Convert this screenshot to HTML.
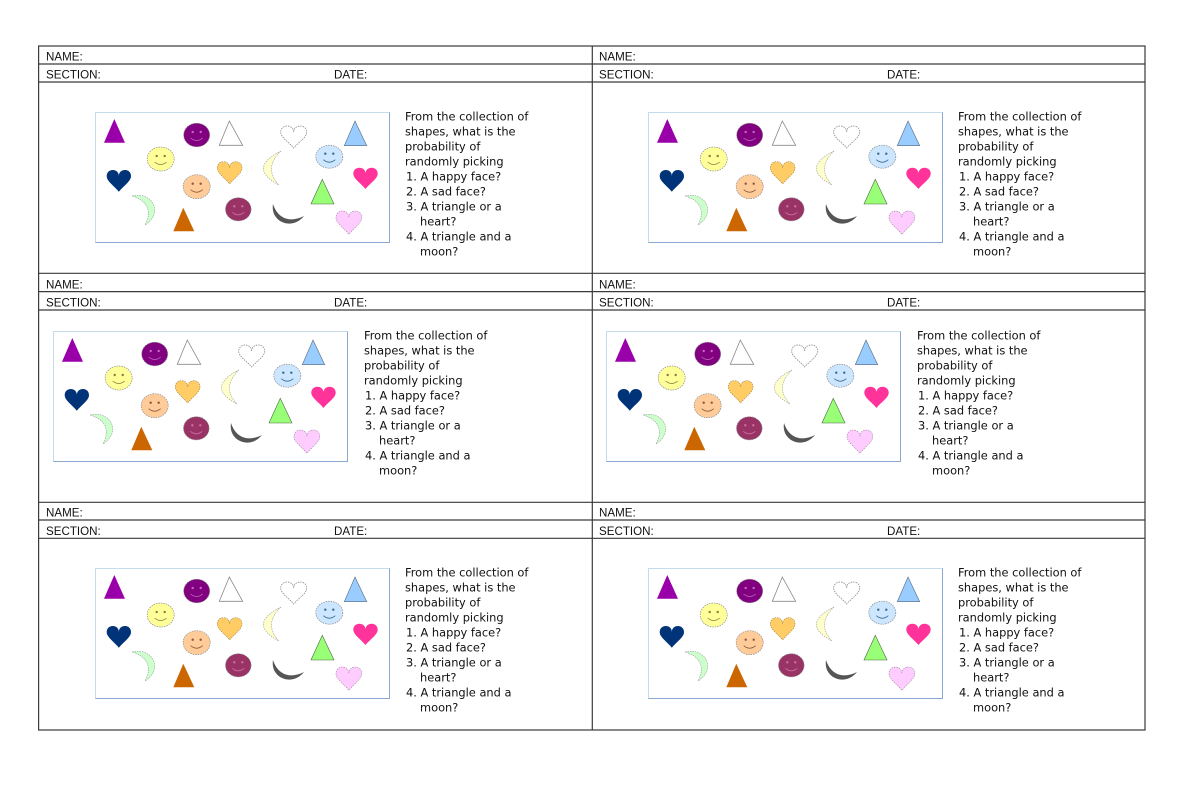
<!DOCTYPE html>
<html><head><meta charset="utf-8">
<style>
html,body{margin:0;padding:0;background:#fff;}
svg{display:block;}
.h{font-family:"Liberation Sans",sans-serif;font-size:11.6px;fill:#111;}
.q{font-family:"DejaVu Sans","Liberation Sans",sans-serif;font-size:11.4px;fill:#111;}
</style></head>
<body>
<svg width="1200" height="785" viewBox="0 0 1200 785" xmlns="http://www.w3.org/2000/svg">
<defs>
<g id="shapes">
  <rect x="0.5" y="0.5" width="294" height="130" fill="#fff" stroke="#c5dcec" stroke-width="1"/>
  <path d="M294.5 0.5 V130.5 H0.5" fill="none" stroke="#8aa8cf" stroke-width="1"/>
  <!-- triangles -->
  <polygon points="19.3,7 9,30.7 30,30.7" fill="#9900aa"/>
  <polygon points="134.3,9 124.3,33.3 147.7,33.3" fill="#fff" stroke="#8a8a8a" stroke-width="0.8"/>
  <polygon points="260,9 249.3,33.7 271.7,33.7" fill="#99ccff" stroke="#5a6a80" stroke-width="0.6"/>
  <polygon points="227.3,67.3 216,92 239,92" fill="#99ff77" stroke="#4a6a44" stroke-width="0.6"/>
  <polygon points="88.3,95.7 78.3,119.3 99.3,119.3" fill="#cc6600"/>
  <!-- faces -->
  <g stroke="#888" stroke-width="0.7" stroke-dasharray="1.5,1">
    <ellipse cx="101.7" cy="23" rx="13" ry="11.8" fill="#800080"/>
    <ellipse cx="65.7" cy="47" rx="13.5" ry="12" fill="#ffff99"/>
    <ellipse cx="234.3" cy="44.7" rx="13.5" ry="11.5" fill="#cce6ff"/>
    <ellipse cx="101.7" cy="74.7" rx="13.5" ry="12" fill="#ffcc99"/>
    <ellipse cx="143.3" cy="97.3" rx="12.8" ry="11.6" fill="#993366"/>
  </g>
  <g fill="#c46ac4"><circle cx="97.7" cy="20" r="1.2"/><circle cx="105.7" cy="20" r="1.2"/></g>
  <path d="M95.7 26 Q101.7 31 107.7 26" fill="none" stroke="#c46ac4" stroke-width="0.8"/>
  <g fill="#8a7a40"><circle cx="61.7" cy="44" r="1.2"/><circle cx="69.7" cy="44" r="1.2"/></g>
  <path d="M59.7 50 Q65.7 55 71.7 50" fill="none" stroke="#8a7a40" stroke-width="0.8"/>
  <g fill="#3a6a8a"><circle cx="230.3" cy="41.7" r="1.2"/><circle cx="238.3" cy="41.7" r="1.2"/></g>
  <path d="M228.3 47.7 Q234.3 52.7 240.3 47.7" fill="none" stroke="#3a6a8a" stroke-width="0.8"/>
  <g fill="#8a5a3a"><circle cx="97.7" cy="71.7" r="1.2"/><circle cx="105.7" cy="71.7" r="1.2"/></g>
  <path d="M95.7 77.7 Q101.7 82.7 107.7 77.7" fill="none" stroke="#8a5a3a" stroke-width="0.8"/>
  <g fill="#d070a0"><circle cx="139.3" cy="94.3" r="1.2"/><circle cx="147.3" cy="94.3" r="1.2"/></g>
  <path d="M137.3 100.3 Q143.3 105.3 149.3 100.3" fill="none" stroke="#d070a0" stroke-width="0.8"/>
  <!-- hearts -->
  <path transform="translate(185.7,14) scale(26,22)" vector-effect="non-scaling-stroke" fill="#fff" stroke="#888" stroke-width="0.8" stroke-dasharray="1.5,1"
    d="M0.5 0.27 C0.5 0.1 0.38 0 0.25 0 C0.1 0 0 0.12 0 0.28 C0 0.52 0.3 0.72 0.5 1 C0.7 0.72 1 0.52 1 0.28 C1 0.12 0.9 0 0.75 0 C0.62 0 0.5 0.1 0.5 0.27 Z"/>
  <path transform="translate(122.3,49.7) scale(24.7,22.3)" vector-effect="non-scaling-stroke" fill="#ffcc66" stroke="#a08040" stroke-width="0.6" stroke-dasharray="1.5,1"
    d="M0.5 0.27 C0.5 0.1 0.38 0 0.25 0 C0.1 0 0 0.12 0 0.28 C0 0.52 0.3 0.72 0.5 1 C0.7 0.72 1 0.52 1 0.28 C1 0.12 0.9 0 0.75 0 C0.62 0 0.5 0.1 0.5 0.27 Z"/>
  <path transform="translate(258.3,55.7) scale(24.4,21.3)" fill="#ff3399"
    d="M0.5 0.27 C0.5 0.1 0.38 0 0.25 0 C0.1 0 0 0.12 0 0.28 C0 0.52 0.3 0.72 0.5 1 C0.7 0.72 1 0.52 1 0.28 C1 0.12 0.9 0 0.75 0 C0.62 0 0.5 0.1 0.5 0.27 Z"/>
  <path transform="translate(11.7,58) scale(24.3,21.7)" fill="#003377"
    d="M0.5 0.27 C0.5 0.1 0.38 0 0.25 0 C0.1 0 0 0.12 0 0.28 C0 0.52 0.3 0.72 0.5 1 C0.7 0.72 1 0.52 1 0.28 C1 0.12 0.9 0 0.75 0 C0.62 0 0.5 0.1 0.5 0.27 Z"/>
  <path transform="translate(241,99) scale(25.7,23.3)" vector-effect="non-scaling-stroke" fill="#ffccff" stroke="#a080a0" stroke-width="0.6" stroke-dasharray="1.5,1"
    d="M0.5 0.27 C0.5 0.1 0.38 0 0.25 0 C0.1 0 0 0.12 0 0.28 C0 0.52 0.3 0.72 0.5 1 C0.7 0.72 1 0.52 1 0.28 C1 0.12 0.9 0 0.75 0 C0.62 0 0.5 0.1 0.5 0.27 Z"/>
  <!-- moons -->
  <path d="M186 39 Q152 56 184 73 Q168 56 186 39 Z" fill="#ffffcc" stroke="#999" stroke-width="0.6" stroke-dasharray="1.5,1"/>
  <path d="M37 84 C56 79 70 100 50 113 C58 98 51 88 37 84 Z" fill="#ccffcc" stroke="#999" stroke-width="0.6" stroke-dasharray="1.5,1"/>
  <path d="M178 92 C175 110 197 119 209 104 C195 111 183 107 178 92 Z" fill="#555555"/>
</g>
</defs>

<!-- shape boxes -->
<use href="#shapes" x="95" y="112"/>
<use href="#shapes" x="648" y="112"/>
<use href="#shapes" x="53" y="331"/>
<use href="#shapes" x="606" y="331"/>
<use href="#shapes" x="95" y="568"/>
<use href="#shapes" x="648" y="568"/>

<!-- grid -->
<g stroke="#3a3a3a" stroke-width="1.2" fill="none">
  <rect x="38.6" y="46" width="1106.4" height="684"/>
  <line x1="592.3" y1="46" x2="592.3" y2="730"/>
  <line x1="38.6" y1="64" x2="1145" y2="64"/>
  <line x1="38.6" y1="82" x2="1145" y2="82"/>
  <line x1="38.6" y1="273.3" x2="1145" y2="273.3"/>
  <line x1="38.6" y1="291.6" x2="1145" y2="291.6"/>
  <line x1="38.6" y1="310" x2="1145" y2="310"/>
  <line x1="38.6" y1="502.3" x2="1145" y2="502.3"/>
  <line x1="38.6" y1="520" x2="1145" y2="520"/>
  <line x1="38.6" y1="538.3" x2="1145" y2="538.3"/>
</g>

<!-- headers -->
<g class="h">
  <text x="46" y="60.7">NAME:</text>
  <text x="46" y="78.7">SECTION:</text>
  <text x="334" y="78.7">DATE:</text>
  <text x="599" y="60.7">NAME:</text>
  <text x="599" y="78.7">SECTION:</text>
  <text x="887" y="78.7">DATE:</text>

  <text x="46" y="288.3">NAME:</text>
  <text x="46" y="306.6">SECTION:</text>
  <text x="334" y="306.6">DATE:</text>
  <text x="599" y="288.3">NAME:</text>
  <text x="599" y="306.6">SECTION:</text>
  <text x="887" y="306.6">DATE:</text>

  <text x="46" y="516.7">NAME:</text>
  <text x="46" y="534.9">SECTION:</text>
  <text x="334" y="534.9">DATE:</text>
  <text x="599" y="516.7">NAME:</text>
  <text x="599" y="534.9">SECTION:</text>
  <text x="887" y="534.9">DATE:</text>
</g>

<!-- questions -->
<g class="q" transform="translate(405,120.7)">
  <text x="0" y="0">From the collection of</text>
  <text x="0" y="15">shapes, what is the</text>
  <text x="0" y="30">probability of</text>
  <text x="0" y="45">randomly picking</text>
  <text x="1" y="60">1. A happy face?</text>
  <text x="1" y="75">2. A sad face?</text>
  <text x="1" y="90">3. A triangle or a</text>
  <text x="15" y="105">heart?</text>
  <text x="1" y="120">4. A triangle and a</text>
  <text x="15" y="135">moon?</text>
</g>
<g class="q" transform="translate(958,120.7)">
  <text x="0" y="0">From the collection of</text>
  <text x="0" y="15">shapes, what is the</text>
  <text x="0" y="30">probability of</text>
  <text x="0" y="45">randomly picking</text>
  <text x="1" y="60">1. A happy face?</text>
  <text x="1" y="75">2. A sad face?</text>
  <text x="1" y="90">3. A triangle or a</text>
  <text x="15" y="105">heart?</text>
  <text x="1" y="120">4. A triangle and a</text>
  <text x="15" y="135">moon?</text>
</g>
<g class="q" transform="translate(364,339.7)">
  <text x="0" y="0">From the collection of</text>
  <text x="0" y="15">shapes, what is the</text>
  <text x="0" y="30">probability of</text>
  <text x="0" y="45">randomly picking</text>
  <text x="1" y="60">1. A happy face?</text>
  <text x="1" y="75">2. A sad face?</text>
  <text x="1" y="90">3. A triangle or a</text>
  <text x="15" y="105">heart?</text>
  <text x="1" y="120">4. A triangle and a</text>
  <text x="15" y="135">moon?</text>
</g>
<g class="q" transform="translate(917,339.7)">
  <text x="0" y="0">From the collection of</text>
  <text x="0" y="15">shapes, what is the</text>
  <text x="0" y="30">probability of</text>
  <text x="0" y="45">randomly picking</text>
  <text x="1" y="60">1. A happy face?</text>
  <text x="1" y="75">2. A sad face?</text>
  <text x="1" y="90">3. A triangle or a</text>
  <text x="15" y="105">heart?</text>
  <text x="1" y="120">4. A triangle and a</text>
  <text x="15" y="135">moon?</text>
</g>
<g class="q" transform="translate(405,576.7)">
  <text x="0" y="0">From the collection of</text>
  <text x="0" y="15">shapes, what is the</text>
  <text x="0" y="30">probability of</text>
  <text x="0" y="45">randomly picking</text>
  <text x="1" y="60">1. A happy face?</text>
  <text x="1" y="75">2. A sad face?</text>
  <text x="1" y="90">3. A triangle or a</text>
  <text x="15" y="105">heart?</text>
  <text x="1" y="120">4. A triangle and a</text>
  <text x="15" y="135">moon?</text>
</g>
<g class="q" transform="translate(958,576.7)">
  <text x="0" y="0">From the collection of</text>
  <text x="0" y="15">shapes, what is the</text>
  <text x="0" y="30">probability of</text>
  <text x="0" y="45">randomly picking</text>
  <text x="1" y="60">1. A happy face?</text>
  <text x="1" y="75">2. A sad face?</text>
  <text x="1" y="90">3. A triangle or a</text>
  <text x="15" y="105">heart?</text>
  <text x="1" y="120">4. A triangle and a</text>
  <text x="15" y="135">moon?</text>
</g>
</svg>
</body></html>
